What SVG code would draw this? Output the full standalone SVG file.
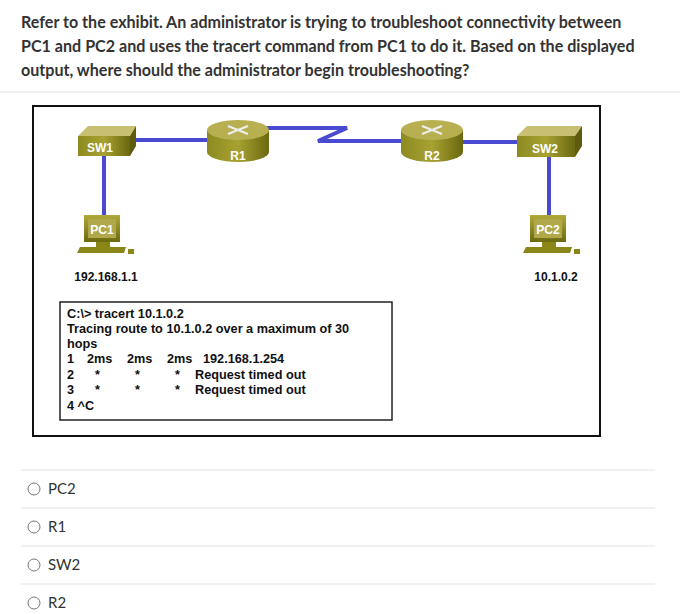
<svg xmlns="http://www.w3.org/2000/svg" width="680" height="614" viewBox="0 0 680 614">
<defs>
<linearGradient id="g" x1="0" y1="0" x2="0" y2="1"><stop offset="0" stop-color="#b0a838"/><stop offset="1" stop-color="#6b6a10"/></linearGradient>
<linearGradient id="gs" x1="0" y1="0" x2="1" y2="0"><stop offset="0" stop-color="#8c8a20"/><stop offset="0.5" stop-color="#a8a232"/><stop offset="1" stop-color="#6a6810"/></linearGradient>
</defs>
<style>
.q{font-family:Lato,"Open Sans",sans-serif;font-size:16.1px;font-weight:bold;fill:#333}
.lab{font-family:"Liberation Sans",Arial,sans-serif;font-weight:bold;font-size:12px;fill:#fff}
.ip{font-family:"Liberation Sans",Arial,sans-serif;font-weight:bold;font-size:12px;fill:#111}
.t{font-family:"Liberation Sans",Arial,sans-serif;font-weight:bold;font-size:12.7px;fill:#111}
.o{font-family:Lato,"Open Sans",sans-serif;font-size:15px;fill:#333}
.sep{stroke:#e2e2e2;stroke-width:1}
.rad{fill:#fff;stroke:#777;stroke-width:1}
.ln{stroke:#4a4ad0;stroke-width:4;fill:none}
</style>
<rect width="680" height="614" fill="#fff"/>
<g id="question">
<text class="q" x="21" y="28">Refer to the exhibit. An administrator is trying to troubleshoot connectivity between</text>
<text class="q" x="21" y="52">PC1 and PC2 and uses the tracert command from PC1 to do it. Based on the displayed</text>
<text class="q" x="21" y="76">output, where should the administrator begin troubleshooting?</text>
<line class="sep" x1="0" y1="92" x2="680" y2="92"/>
</g>
<rect x="33" y="106" width="567" height="330" fill="#fff" stroke="#111" stroke-width="2"/>
<g id="connectors">
<line class="ln" x1="130" y1="140" x2="212" y2="140"/>
<polyline class="ln" points="266,128 347,128 318,141 402,141"/>
<line class="ln" x1="463" y1="142" x2="522" y2="142"/>
<line class="ln" x1="104" y1="155" x2="104" y2="215"/>
<line class="ln" x1="549" y1="155" x2="549" y2="215"/>
</g>
<g id="SW1">
<polygon points="78,136 88,126 136,126 130,136" fill="#c8c070"/>
<rect x="78" y="136" width="52" height="20" fill="url(#gs)"/>
<polygon points="130,136 136,126 136,146 130,156" fill="#5e5c0c"/>
<text class="lab" x="100" y="152" text-anchor="middle">SW1</text>
</g>
<g id="R1">
<path d="M207,130 v22 a31,10 0 0 0 62,0 v-22 z" fill="url(#gs)"/>
<ellipse cx="238" cy="130" rx="31" ry="10" fill="#b8b050"/>
<path d="M228,126 l20,8 M248,126 l-20,8" stroke="#eee" stroke-width="2"/>
<text class="lab" x="238" y="160" text-anchor="middle">R1</text>
</g>
<g id="R2">
<path d="M401,130 v22 a31,10 0 0 0 62,0 v-22 z" fill="url(#gs)"/>
<ellipse cx="432" cy="130" rx="31" ry="10" fill="#b8b050"/>
<path d="M422,126 l20,8 M442,126 l-20,8" stroke="#eee" stroke-width="2"/>
<text class="lab" x="432" y="160" text-anchor="middle">R2</text>
</g>
<g id="SW2">
<polygon points="517,136 527,126 582,126 575,136" fill="#c8c070"/>
<rect x="517" y="136" width="58" height="21" fill="url(#gs)"/>
<polygon points="575,136 582,126 582,146 575,157" fill="#5e5c0c"/>
<text class="lab" x="545" y="153" text-anchor="middle">SW2</text>
</g>
<g id="PC1">
<rect x="84" y="215" width="36" height="27" fill="url(#g)"/>
<rect x="88" y="219" width="28" height="19" fill="#b0a84a"/>
<text class="lab" x="102" y="234" text-anchor="middle">PC1</text>
<rect x="96" y="242" width="14" height="5" fill="#8a8618"/>
<polygon points="80,247 126,247 124,253 77,253" fill="#8a8618"/>
<rect x="128" y="249" width="6" height="5" fill="#8a8618"/>
<text class="ip" x="106" y="281" text-anchor="middle">192.168.1.1</text>
</g>
<g id="PC2">
<rect x="530" y="215" width="36" height="27" fill="url(#g)"/>
<rect x="534" y="219" width="28" height="19" fill="#b0a84a"/>
<text class="lab" x="548" y="234" text-anchor="middle">PC2</text>
<rect x="542" y="242" width="14" height="5" fill="#8a8618"/>
<polygon points="526,247 572,247 570,253 523,253" fill="#8a8618"/>
<rect x="574" y="249" width="6" height="5" fill="#8a8618"/>
<text class="ip" x="556" y="281" text-anchor="middle">10.1.0.2</text>
</g>
<g id="terminal">
<rect x="60" y="302" width="332" height="118" fill="#fff" stroke="#222" stroke-width="1.5"/>
<text class="t" x="67" y="318">C:\&gt; tracert 10.1.0.2</text>
<text class="t" x="67" y="333">Tracing route to 10.1.0.2 over a maximum of 30</text>
<text class="t" x="67" y="348">hops</text>
<text class="t" x="67" y="363">1</text><text class="t" x="87" y="363">2ms</text><text class="t" x="127" y="363">2ms</text><text class="t" x="167" y="363">2ms</text><text class="t" x="203" y="363">192.168.1.254</text>
<text class="t" x="67" y="379">2</text><text class="t" x="95" y="379">*</text><text class="t" x="135" y="379">*</text><text class="t" x="175" y="379">*</text><text class="t" x="195" y="379">Request timed out</text>
<text class="t" x="67" y="394">3</text><text class="t" x="95" y="394">*</text><text class="t" x="135" y="394">*</text><text class="t" x="175" y="394">*</text><text class="t" x="195" y="394">Request timed out</text>
<text class="t" x="67" y="410">4 ^C</text>
</g>
<g id="options">
<line class="sep" x1="21" y1="470" x2="655" y2="470"/>
<circle class="rad" cx="34" cy="489" r="6"/><text class="o" x="48" y="494">PC2</text>
<line class="sep" x1="21" y1="508" x2="655" y2="508"/>
<circle class="rad" cx="34" cy="527" r="6"/><text class="o" x="48" y="532">R1</text>
<line class="sep" x1="21" y1="546" x2="655" y2="546"/>
<circle class="rad" cx="34" cy="565" r="6"/><text class="o" x="48" y="570">SW2</text>
<line class="sep" x1="21" y1="584" x2="655" y2="584"/>
<circle class="rad" cx="34" cy="603" r="6"/><text class="o" x="48" y="608">R2</text>
</g>
</svg>
